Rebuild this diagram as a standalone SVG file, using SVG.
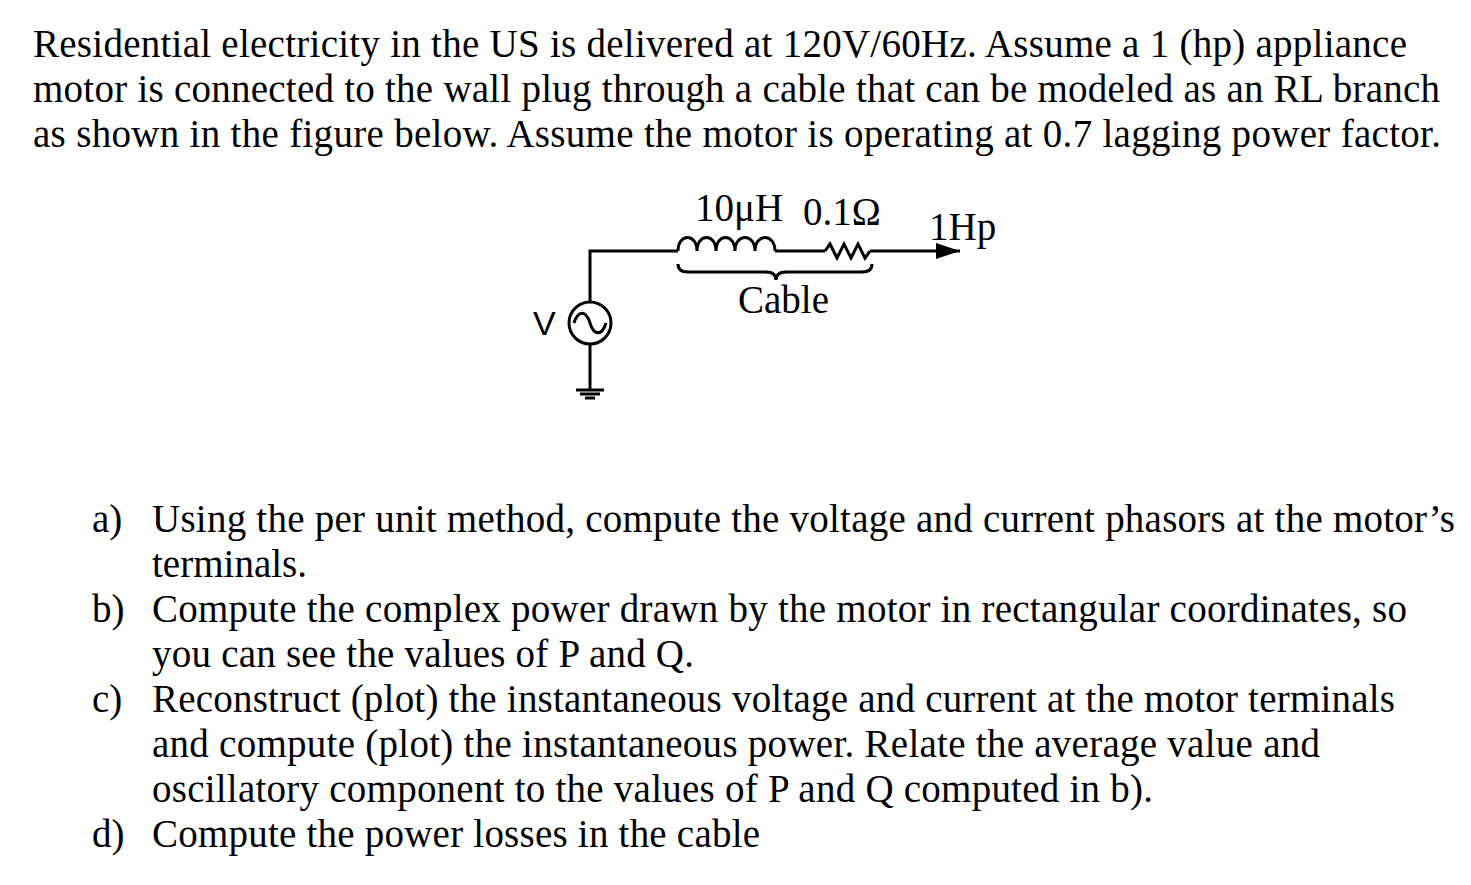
<svg xmlns="http://www.w3.org/2000/svg" width="1471" height="885" viewBox="0 0 1471 885">
<style>
text{font-family:"Liberation Serif",serif;font-size:39px;fill:#000}
.w{fill:none;stroke:#000;stroke-width:3}
.s{font-family:"Liberation Sans",sans-serif;font-size:34px}
</style>
<defs><marker id="ah" markerWidth="24" markerHeight="16" refX="24" refY="8" orient="auto" markerUnits="userSpaceOnUse" viewBox="0 0 24 16"><path d="M0,0L24,8L0,16z"/></marker></defs>
<rect width="1471" height="885" fill="#fff"/>
<g id="text">
<text x="33" y="57" textLength="1374" lengthAdjust="spacing">Residential electricity in the US is delivered at 120V/60Hz. Assume a 1 (hp) appliance</text>
<text x="33" y="102" textLength="1407" lengthAdjust="spacing">motor is connected to the wall plug through a cable that can be modeled as an RL branch</text>
<text x="33" y="147" textLength="1408" lengthAdjust="spacing">as shown in the figure below. Assume the motor is operating at 0.7 lagging power factor.</text>
<text x="92" y="532">a)</text><text x="152" y="532" textLength="1303" lengthAdjust="spacing">Using the per unit method, compute the voltage and current phasors at the motor’s</text>
<text x="152" y="577" textLength="155" lengthAdjust="spacing">terminals.</text>
<text x="92" y="622">b)</text><text x="152" y="622" textLength="1255" lengthAdjust="spacing">Compute the complex power drawn by the motor in rectangular coordinates, so</text>
<text x="152" y="667" textLength="542" lengthAdjust="spacing">you can see the values of P and Q.</text>
<text x="92" y="712">c)</text><text x="152" y="712" textLength="1243" lengthAdjust="spacing">Reconstruct (plot) the instantaneous voltage and current at the motor terminals</text>
<text x="152" y="757" textLength="1168" lengthAdjust="spacing">and compute (plot) the instantaneous power. Relate the average value and</text>
<text x="152" y="802" textLength="1001" lengthAdjust="spacing">oscillatory component to the values of P and Q computed in b).</text>
<text x="92" y="847">d)</text><text x="152" y="847" textLength="608" lengthAdjust="spacing">Compute the power losses in the cable</text>
</g>
<g id="source">
<circle class="w" cx="590" cy="323" r="21"/>
<path class="w" d="M574,323 C578,310 586,310 590,323 C594,336 602,336 606,323"/>
<text class="s" x="533" y="335">V</text>
</g>
<g id="ground"><path class="w" d="M576,390H604M580,394H600M585,398H595"/></g>
<g id="inductor">
<path class="w" d="M678,251 C678,233 697,233 697,251 C697,233 716,233 716,251 C716,233 735,233 735,251 C735,233 755,233 755,251 C755,233 775,233 775,251"/>
<text x="695" y="221" font-size="37">10μH</text>
</g>
<g id="resistor">
<path class="w" d="M825,251L830,244L837,258L844,244L851,258L858,244L865,258L870,251"/>
<text x="803" y="225" font-size="37">0.1Ω</text>
</g>
<g id="motor"><text x="929" y="240" font-size="36">1Hp</text></g>
<g id="cable">
<path class="w" stroke-width="2.5" d="M678,264Q678,272 688,272H766Q776,272 776,280Q776,272 786,272H862Q872,272 872,264"/>
<text x="738" y="313" font-size="36">Cable</text>
</g>
<g id="connectors">
<path class="w" d="M590,302V251H678"/>
<path class="w" d="M590,344V390"/>
<path class="w" d="M775,251H825"/>
<path class="w" d="M870,251H960" marker-end="url(#ah)"/>
</g>
</svg>
